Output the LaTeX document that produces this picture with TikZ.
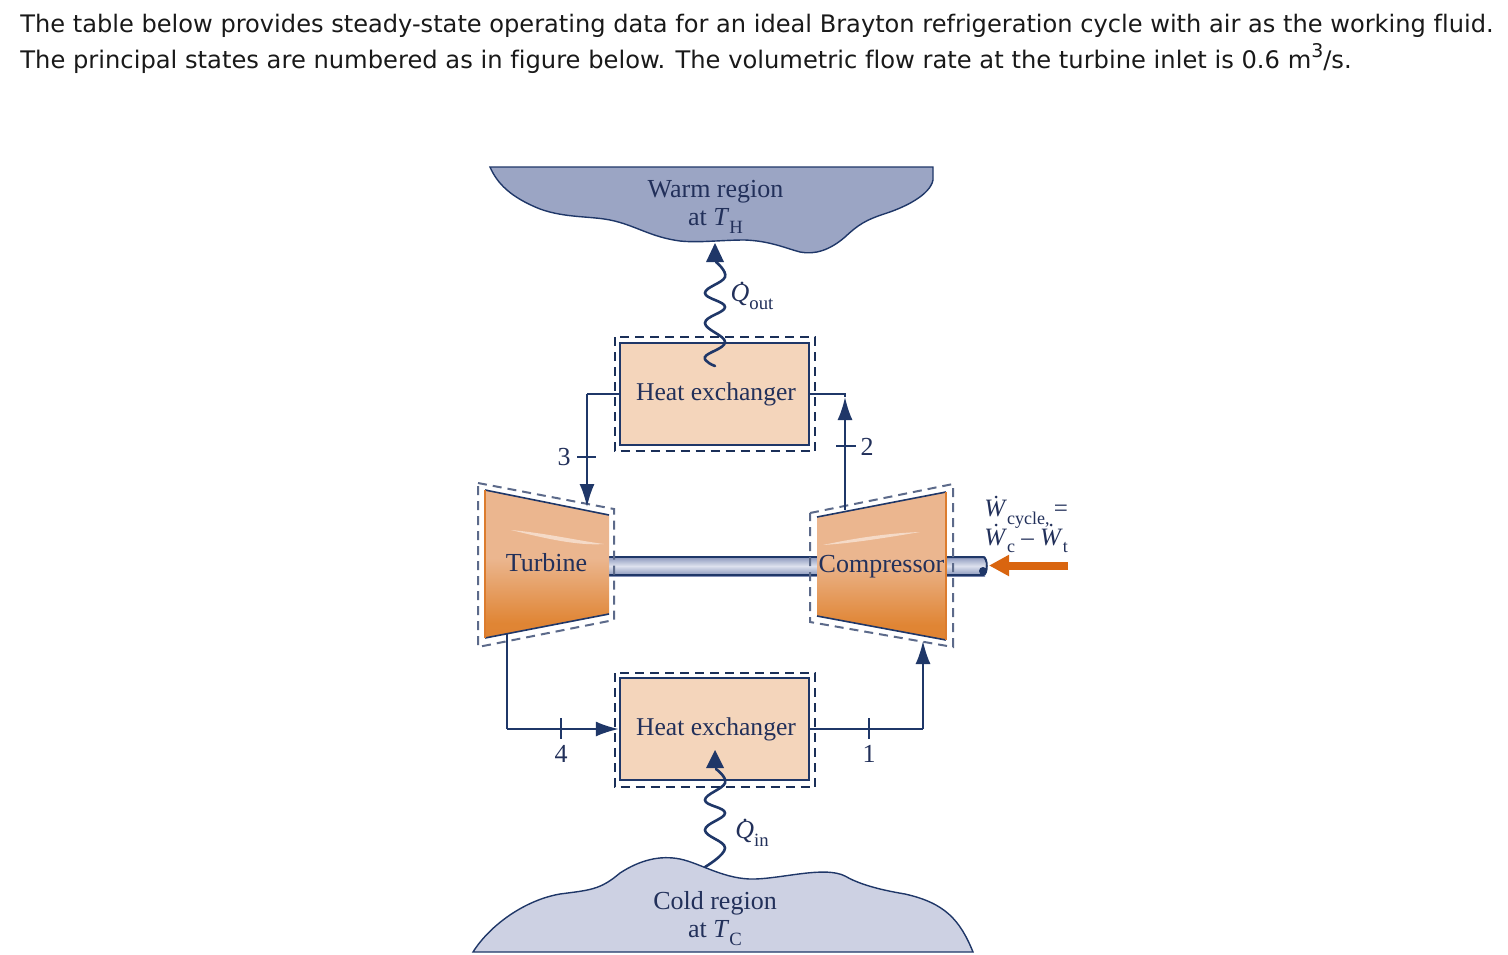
\documentclass[tikz,border=0pt]{standalone}
\usepackage{fontspec}
\setmainfont{Liberation Serif}
\newfontfamily\topfont[Ligatures=NoCommon]{DejaVu Sans}
\usetikzlibrary{arrows.meta}
\definecolor{navy}{HTML}{1F3768}
\definecolor{ink}{HTML}{22305A}
\definecolor{warmc}{HTML}{9BA5C4}
\definecolor{coldc}{HTML}{CDD1E3}
\definecolor{hxc}{HTML}{F4D5BB}
\definecolor{orgA}{HTML}{DC7C2E}
\definecolor{orgB}{HTML}{E08534}
\definecolor{orgC}{HTML}{EBB68F}
\definecolor{orgD}{HTML}{E6A76F}
\definecolor{shA}{HTML}{1F3768}
\definecolor{shB}{HTML}{7F8DB5}
\definecolor{shC}{HTML}{DDE1EE}
\definecolor{arrowo}{HTML}{D9650F}
\definecolor{dashgray}{HTML}{5C6A8A}
\pgfdeclareverticalshading{machine}{100bp}{color(0bp)=(orgA); color(30bp)=(orgB); color(52bp)=(orgC); color(82bp)=(orgC); color(100bp)=(orgD)}
\pgfdeclareverticalshading{shaft}{100bp}{color(0bp)=(shA); color(10bp)=(shA); color(24bp)=(shB); color(50bp)=(shC); color(76bp)=(shB); color(90bp)=(shA); color(100bp)=(shA)}
\newcommand{\subs}[1]{\raisebox{-0.3em}{\scalebox{0.72}{#1}}}
\tikzset{
  x=0.5pt,y=-0.5pt,
  line/.style={draw=navy,line width=1pt},
  flow/.style={line,-{Latex[length=11.5pt,width=7.5pt]}},
  hx/.style={draw=navy,line width=1.2pt,fill=hxc,minimum width=94.5pt,minimum height=51pt,inner sep=0pt,text=ink,font=\fontsize{12.8}{15}\selectfont},
  dashbox/.style={draw=navy!85!black,line width=1pt,dash pattern=on 4.5pt off 3pt},
  dashmach/.style={draw=dashgray,line width=1pt,dash pattern=on 4.5pt off 3pt},
  label/.style={text=ink,font=\fontsize{13}{14}\selectfont,inner sep=0pt,align=center},
  wave/.style={draw=navy,line width=1.3pt,line cap=round},
  head/.style={fill=navy,draw=none},
  toptext/.style={anchor=base west,inner sep=0pt,text=black!90},
  machine shape/.style={shading=machine,draw=none},
  edge/.style={draw=navy,line width=0.8pt},
  ratedot/.style={fill=ink,draw=none}
}
\begin{document}
\begin{tikzpicture}
\useasboundingbox (0,0) rectangle (1508,954);
\fill[white] (0,0) rectangle (1508,954);
% top text
\node[toptext,font=\topfont\fontsize{12.05}{14}\selectfont] (l1) at (20,32) {The table below provides steady-state operating data for an ideal Brayton refrigeration cycle with air as the working fluid.};
\node[toptext,font=\topfont\fontsize{12.1}{14}\selectfont] (l2) at (20,68) {The principal states are numbered as in figure below. The volumetric flow rate at the turbine inlet is 0.6 m\raisebox{0.42em}{\scalebox{0.78}{3}}/s.};
% warm region
\draw[fill=warmc,draw=navy,line width=0.7pt] (490,167) -- (933,167) -- (933,180)
  .. controls (930,195) and (905,207) .. (887,213)
  .. controls (865,220) and (858,225) .. (845,237)
  .. controls (830,250) and (815,255) .. (800,252)
  .. controls (785,248) and (770,241) .. (745,240)
  .. controls (720,240) and (700,243) .. (680,241)
  .. controls (650,237) and (635,225) .. (610,220)
  .. controls (590,216) and (565,218) .. (540,209)
  .. controls (510,197) and (497,183) .. (490,167) -- cycle;
% cold region
\draw[fill=coldc,draw=navy,line width=0.7pt] (473,952)
  .. controls (490,925) and (525,900) .. (560,894)
  .. controls (590,890) and (600,890) .. (620,873)
  .. controls (640,860) and (660,855) .. (680,859)
  .. controls (700,863) and (725,880) .. (755,879)
  .. controls (785,878) and (825,866) .. (845,876)
  .. controls (857,883) and (875,889) .. (905,894)
  .. controls (945,903) and (960,920) .. (973,952) -- cycle;
\node[label] (warm) at (715.5,207) {Warm region\\at \textit{T}\subs{H}};
\node[label] (cold) at (715,918.5) {Cold region\\at \textit{T}\subs{C}};
% heat exchangers
\draw[dashbox] (614.5,337) rectangle (815,451);
\draw[dashbox] (614.5,673) rectangle (815,787);
\node[hx] (hxtop) at (714.5,394) {\hspace*{1.5pt}Heat exchanger};
\node[hx] (hxbot) at (714.5,729) {\hspace*{1.5pt}Heat exchanger};
% shaft
\path[shading=shaft] (609,556) rectangle (817,576);
\path[shading=shaft] (946,556) rectangle (985,576);
\draw[edge] (609,557) -- (817,557) (609,575) -- (817,575);
\draw[edge,line width=1pt] (946,557) -- (983,557) .. controls (988,557) and (988,575) .. (983,575) -- (946,575);
\fill[navy] (983,571) circle[radius=4];
% dashed machine envelopes
\draw[dashmach] (478,483) -- (614,509) -- (614,620) -- (478,647) -- cycle;
\draw[dashmach] (810,513) -- (953,484) -- (953,647) -- (810,622) -- cycle;
% turbine
\path[machine shape] (485,490) -- (609,515) -- (609,614) -- (485,638) -- cycle;
\draw[edge] (485,490) -- (609,515) (485,638) -- (609,614);
\draw[orgA,line width=0.8pt] (485,490) -- (485,638);
\fill[white,opacity=0.5] (511,530) .. controls (545,533) and (580,541) .. (604,544) .. controls (575,546) and (540,537) .. (511,530) -- cycle;
% compressor
\path[machine shape] (817,517) -- (946,492) -- (946,640) -- (817,616) -- cycle;
\draw[edge] (817,517) -- (946,492) (817,616) -- (946,640);
\draw[orgA,line width=0.8pt] (946,492) -- (946,640);
\fill[white,opacity=0.5] (823,545) .. controls (855,538) and (890,533) .. (920,532) .. controls (890,537) and (855,543) .. (823,545) -- cycle;
\node[label] (turb) at (546.5,563) {Turbine};
\node[label] (comp) at (881.5,567) {Compressor};
% named connection points
\coordinate (turbin) at (587,507);
\coordinate (compout) at (845,510);
\coordinate (compup) at (845,397);
\coordinate (turbout) at (507,634);
\coordinate (compin) at (923,641);
\coordinate (cor3) at (turbin |- hxtop.west);
\coordinate (cor2) at (compout |- hxtop.east);
\coordinate (cor4) at (turbout |- hxbot.west);
\coordinate (cor1) at (compin |- hxbot.east);
% connectors
\draw[line] (hxtop.west) -- (cor3);
\draw[flow] (cor3) -- (turbin);
\draw[flow] (compout) -- (compup);
\draw[line] (compup) -- (cor2) -- (hxtop.east);
\draw[line] (turbout) -- (cor4);
\draw[flow] (cor4) -- (hxbot.west);
\draw[line] (hxbot.east) -- (cor1);
\draw[flow] (cor1) -- (compin);
% state ticks
\coordinate (t3a) at (577,457); \coordinate (t3b) at (596,457);
\coordinate (t2a) at (836,446); \coordinate (t2b) at (856,446);
\coordinate (t4a) at (561,718); \coordinate (t4b) at (561,739);
\coordinate (t1a) at (869,718); \coordinate (t1b) at (869,739);
\draw[line] (t3a) -- (t3b) (t2a) -- (t2b) (t4a) -- (t4b) (t1a) -- (t1b);
\node[label] (s3) at (564,457) {3};
\node[label] (s2) at (867,447) {2};
\node[label] (s4) at (561,754) {4};
\node[label] (s1) at (869,754) {1};
% heat transfer
\draw[wave] plot[smooth,tension=0.7] coordinates {(715,366) (705,357) (725,342) (705,323) (725,307) (705,293) (725,277) (716,262)};
\fill[head] (715,243) -- (724,262) -- (706,262) -- cycle;
\draw[wave] plot[smooth,tension=0.7] coordinates {(705,867) (725,848) (705,830) (725,813) (705,800) (725,783) (716,769)};
\fill[head] (715,750) -- (724,768) -- (706,768) -- cycle;
\node[label] (qout) at (752,297) {\textit{Q}\subs{out}};
\node[label] (qin) at (752,834) {\textit{Q}\subs{in}};
\fill[ratedot] (742,283) circle[radius=1.6];
\fill[ratedot] (745,820) circle[radius=1.6];
% work input
\coordinate (workstart) at (1068,565.5);
\coordinate (workend) at (989,565.5);
\draw[draw=arrowo,line width=4pt,-{Triangle[length=10pt,width=10pt]}] (workstart) -- (workend);
\node[label,font=\fontsize{12.5}{13}\selectfont,anchor=west] (wc) at (984,514) {\textit{W}\subs{cycle,}\,=};
\node[label,font=\fontsize{12.5}{13}\selectfont,anchor=west] (wd) at (984,541) {\textit{W}\subs{c} -- \textit{W}\subs{t}};
\fill[ratedot] (996,497) circle[radius=1.5];
\fill[ratedot] (996,525) circle[radius=1.5];
\fill[ratedot] (1051,525) circle[radius=1.5];
\end{tikzpicture}
\end{document}
